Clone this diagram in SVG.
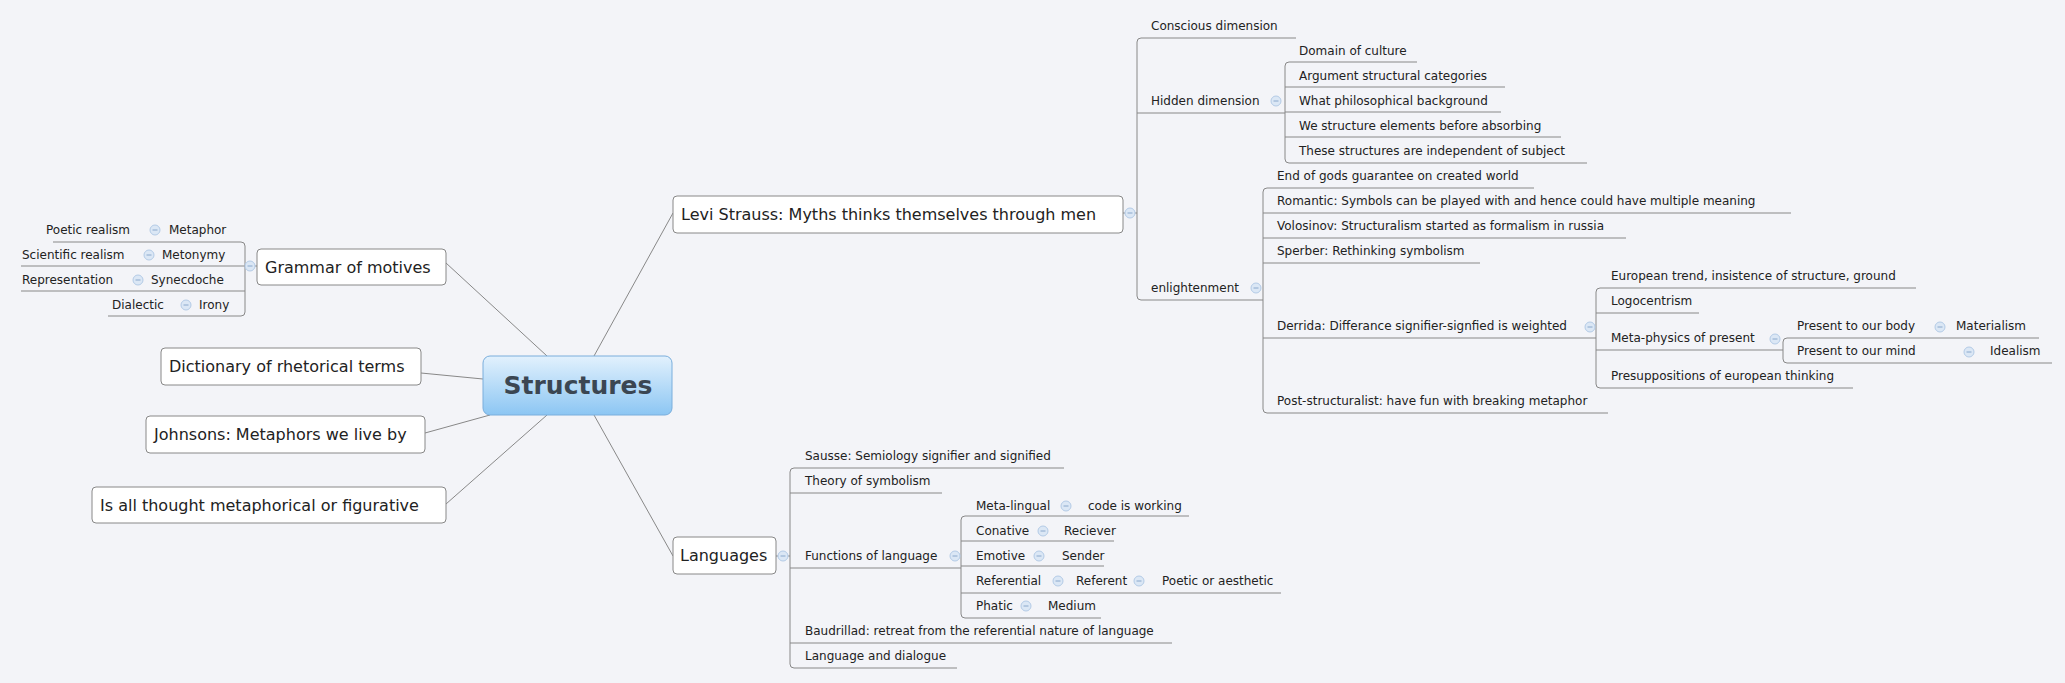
<svg xmlns="http://www.w3.org/2000/svg" xmlns:xlink="http://www.w3.org/1999/xlink" width="2065" height="683" viewBox="0 0 2065 683">
<defs>
<linearGradient id="cg" x1="0" y1="0" x2="0" y2="1"><stop offset="0" stop-color="#e2f1fd"/><stop offset="1" stop-color="#8cc6f3"/></linearGradient>
<symbol id="col" viewBox="-6 -6 12 12" overflow="visible"><circle r="5" fill="#dbe7f5" stroke="#b3cbe6" stroke-width="1"/><line x1="-2.5" y1="0" x2="2.5" y2="0" stroke="#8aa8cc" stroke-width="1"/></symbol>
</defs>
<style>
.bg{fill:#f3f4f8}
.box{fill:#fff;stroke:#888;stroke-width:1}
.t{font-family:"DejaVu Sans","Liberation Sans",sans-serif;font-size:12px;fill:#222}
.m{font-family:"DejaVu Sans","Liberation Sans",sans-serif;font-size:16px;fill:#222}
.c{font-family:"DejaVu Sans","Liberation Sans",sans-serif;font-size:25px;font-weight:bold;fill:#3b4652}
.ln{fill:none;stroke:#888;stroke-width:1}
</style>
<rect class="bg" width="2065" height="683"/>
<g id="connectors" class="ln">
<line x1="594" y1="356" x2="673" y2="213"/>
<line x1="547" y1="356" x2="446" y2="263"/>
<line x1="483" y1="379" x2="421" y2="373"/>
<line x1="490" y1="415" x2="425" y2="433"/>
<line x1="547" y1="415" x2="446" y2="504"/>
<line x1="594" y1="415" x2="673" y2="556"/>
<!-- Levi children -->
<path d="M1296,38 H1141 Q1137,38 1137,42 V296 Q1137,300 1141,300 H1263"/>
<line x1="1123" y1="213" x2="1137" y2="213"/>
<line x1="1137" y1="113" x2="1285" y2="113"/>
<!-- Hidden children -->
<path d="M1417,62 H1289 Q1285,62 1285,66 V159 Q1285,163 1289,163 H1587"/>
<line x1="1285" y1="87" x2="1505" y2="87"/>
<line x1="1285" y1="112" x2="1501" y2="112"/>
<line x1="1285" y1="137" x2="1561" y2="137"/>
<!-- enlightenment children -->
<path d="M1534,188 H1267 Q1263,188 1263,192 V409 Q1263,413 1267,413 H1608"/>
<line x1="1263" y1="213" x2="1791" y2="213"/>
<line x1="1263" y1="238" x2="1626" y2="238"/>
<line x1="1263" y1="263" x2="1480" y2="263"/>
<line x1="1263" y1="338" x2="1596" y2="338"/>
<!-- Derrida children -->
<path d="M1916,288 H1600 Q1596,288 1596,292 V384 Q1596,388 1600,388 H1853"/>
<line x1="1596" y1="313" x2="1699" y2="313"/>
<line x1="1596" y1="350" x2="1783" y2="350"/>
<!-- Meta-physics children -->
<path d="M2039,338 H1787 Q1783,338 1783,342 V359 Q1783,363 1787,363 H2052"/>
<!-- Grammar children -->
<path d="M53,242 H241 Q245,242 245,246 V312 Q245,316 241,316 H108"/>
<line x1="245" y1="266" x2="21" y2="266"/>
<line x1="245" y1="291" x2="21" y2="291"/>
<line x1="245" y1="266" x2="257" y2="266"/>
<!-- Languages children -->
<path d="M1064,468 H794 Q790,468 790,472 V664 Q790,668 794,668 H957"/>
<line x1="776" y1="556" x2="790" y2="556"/>
<line x1="790" y1="493" x2="942" y2="493"/>
<line x1="790" y1="568" x2="961" y2="568"/>
<line x1="790" y1="643" x2="1172" y2="643"/>
<!-- Functions children -->
<path d="M1189,516 H965 Q961,516 961,520 V614 Q961,618 965,618 H1101"/>
<line x1="961" y1="541" x2="1114" y2="541"/>
<line x1="961" y1="566" x2="1104" y2="566"/>
<line x1="961" y1="593" x2="1281" y2="593"/>
</g>
<g id="structures"><rect x="483" y="356" width="189" height="59" rx="7" fill="url(#cg)" stroke="#7aaedc"/><text class="c" x="578" y="394" text-anchor="middle">Structures</text></g>
<g id="levi"><rect class="box" x="673" y="196" width="450" height="37" rx="4"/><text class="m" x="681" y="220">Levi Strauss: Myths thinks themselves through men</text><use href="#col" x="1124" y="207" width="12" height="12"/></g>
<g id="grammar"><rect class="box" x="257" y="249" width="189" height="36" rx="4"/><text class="m" x="265" y="273">Grammar of motives</text><use href="#col" x="244" y="260" width="12" height="12"/></g>
<g id="dictionary"><rect class="box" x="161" y="348" width="260" height="37" rx="4"/><text class="m" x="169" y="372">Dictionary of rhetorical terms</text></g>
<g id="johnsons"><rect class="box" x="146" y="416" width="279" height="37" rx="4"/><text class="m" x="154" y="440">Johnsons: Metaphors we live by</text></g>
<g id="isall"><rect class="box" x="92" y="487" width="354" height="36" rx="4"/><text class="m" x="100" y="511">Is all thought metaphorical or figurative</text></g>
<g id="languages"><rect class="box" x="673" y="537" width="103" height="37" rx="4"/><text class="m" x="680" y="561">Languages</text><use href="#col" x="777" y="550" width="12" height="12"/></g>

<g id="conscious"><text class="t" x="1151" y="30">Conscious dimension</text></g>
<g id="hidden"><text class="t" x="1151" y="105">Hidden dimension</text><use href="#col" x="1270" y="95" width="12" height="12"/></g>
<g id="enlight"><text class="t" x="1151" y="292">enlightenment</text><use href="#col" x="1250" y="282" width="12" height="12"/></g>
<g id="hd1"><text class="t" x="1299" y="55">Domain of culture</text></g>
<g id="hd2"><text class="t" x="1299" y="80">Argument structural categories</text></g>
<g id="hd3"><text class="t" x="1299" y="105">What philosophical background</text></g>
<g id="hd4"><text class="t" x="1299" y="130">We structure elements before absorbing</text></g>
<g id="hd5"><text class="t" x="1299" y="155">These structures are independent of subject</text></g>
<g id="en1"><text class="t" x="1277" y="180">End of gods guarantee on created world</text></g>
<g id="en2"><text class="t" x="1277" y="205">Romantic: Symbols can be played with and hence could have multiple meaning</text></g>
<g id="en3"><text class="t" x="1277" y="230">Volosinov: Structuralism started as formalism in russia</text></g>
<g id="en4"><text class="t" x="1277" y="255">Sperber: Rethinking symbolism</text></g>
<g id="derrida"><text class="t" x="1277" y="330">Derrida: Differance signifier-signfied is weighted</text><use href="#col" x="1584" y="321" width="12" height="12"/></g>
<g id="en6"><text class="t" x="1277" y="405">Post-structuralist: have fun with breaking metaphor</text></g>
<g id="de1"><text class="t" x="1611" y="280">European trend, insistence of structure, ground</text></g>
<g id="de2"><text class="t" x="1611" y="305">Logocentrism</text></g>
<g id="meta"><text class="t" x="1611" y="342">Meta-physics of present</text><use href="#col" x="1769" y="333" width="12" height="12"/></g>
<g id="de4"><text class="t" x="1611" y="380">Presuppositions of european thinking</text></g>
<g id="body"><text class="t" x="1797" y="330">Present to our body</text><use href="#col" x="1934" y="321" width="12" height="12"/><text class="t" x="1956" y="330">Materialism</text></g>
<g id="mind"><text class="t" x="1797" y="355">Present to our mind</text><use href="#col" x="1963" y="346" width="12" height="12"/><text class="t" x="1990" y="355">Idealism</text></g>

<g id="gm1"><text class="t" x="46" y="234">Poetic realism</text><use href="#col" x="149" y="224" width="12" height="12"/><text class="t" x="169" y="234">Metaphor</text></g>
<g id="gm2"><text class="t" x="22" y="259">Scientific realism</text><use href="#col" x="143" y="249" width="12" height="12"/><text class="t" x="162" y="259">Metonymy</text></g>
<g id="gm3"><text class="t" x="22" y="284">Representation</text><use href="#col" x="132" y="274" width="12" height="12"/><text class="t" x="151" y="284">Synecdoche</text></g>
<g id="gm4"><text class="t" x="112" y="309">Dialectic</text><use href="#col" x="180" y="299" width="12" height="12"/><text class="t" x="199" y="309">Irony</text></g>

<g id="la1"><text class="t" x="805" y="460">Sausse: Semiology signifier and signified</text></g>
<g id="la2"><text class="t" x="805" y="485">Theory of symbolism</text></g>
<g id="functions"><text class="t" x="805" y="560">Functions of language</text><use href="#col" x="949" y="550" width="12" height="12"/></g>
<g id="la4"><text class="t" x="805" y="635">Baudrillad: retreat from the referential nature of language</text></g>
<g id="la5"><text class="t" x="805" y="660">Language and dialogue</text></g>
<g id="fu1"><text class="t" x="976" y="510">Meta-lingual</text><use href="#col" x="1060" y="500" width="12" height="12"/><text class="t" x="1088" y="510">code is working</text></g>
<g id="fu2"><text class="t" x="976" y="535">Conative</text><use href="#col" x="1037" y="525" width="12" height="12"/><text class="t" x="1064" y="535">Reciever</text></g>
<g id="fu3"><text class="t" x="976" y="560">Emotive</text><use href="#col" x="1033" y="550" width="12" height="12"/><text class="t" x="1062" y="560">Sender</text></g>
<g id="fu4"><text class="t" x="976" y="585">Referential</text><use href="#col" x="1052" y="575" width="12" height="12"/><text class="t" x="1076" y="585">Referent</text><use href="#col" x="1133" y="575" width="12" height="12"/><text class="t" x="1162" y="585">Poetic or aesthetic</text></g>
<g id="fu5"><text class="t" x="976" y="610">Phatic</text><use href="#col" x="1020" y="600" width="12" height="12"/><text class="t" x="1048" y="610">Medium</text></g>
</svg>
